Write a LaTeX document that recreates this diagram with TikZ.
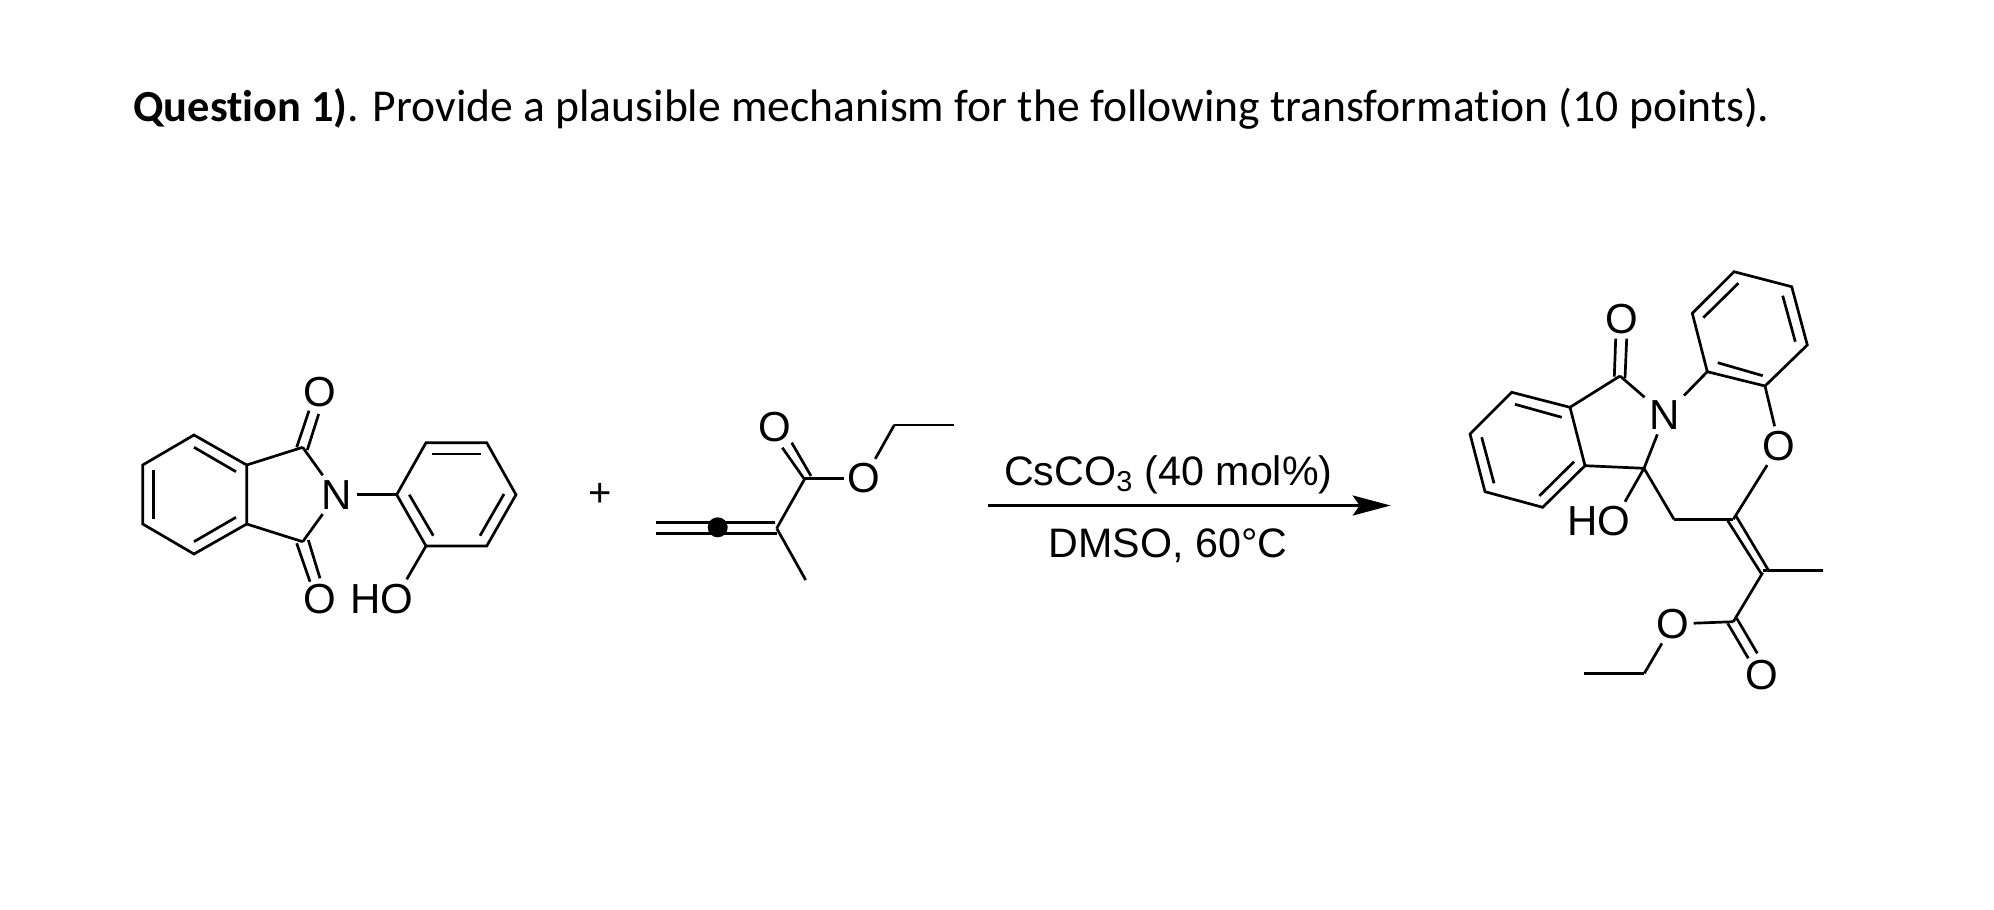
\documentclass[tikz,border=0pt]{standalone}
\usepackage{fontspec}
\setmainfont{Liberation Sans}
\newfontfamily\titlefont[Ligatures=NoCommon]{Carlito}
\usetikzlibrary{arrows.meta}
\tikzset{
  bond/.style={line width=1.35pt,line cap=butt,line join=miter},
  atom/.style={rectangle,inner sep=0pt,minimum width=20pt,minimum height=19pt,font=\fontsize{21}{21}\selectfont},
  hydroxyl/.style={inner sep=0pt,font=\fontsize{21}{21}\selectfont},
  reagent/.style={inner sep=0pt,font=\fontsize{20.6}{20.6}\selectfont},
  reaction/.style={line width=1.35pt,-{Stealth[length=19pt,width=10pt,inset=3.5pt]}},
}
\begin{document}
\begin{tikzpicture}[x=0.5pt,y=-0.5pt]
\useasboundingbox (0,0) rectangle (1994,910);
% title
\node[anchor=base west,inner sep=0pt,font=\titlefont\fontsize{22.8}{22.8}\selectfont] (title) at (133,121)
  {{\fontsize{22.2}{22.2}\selectfont\textbf{Question 1)}}. Provide a plausible mechanism for the following transformation (10 points).};
% atoms with a label
\foreach \n/\t/\px/\py in {
  Na/N/336.7/494.7, Oa/O/320/392.3, Ob/O/320/599.3,
  Oc/O/775/427.3, Od/O/864.3/478.3,
  Ne/N/1665/415, Oe/O/1621.7/319, Of/O/1779.3/445.7, Og/O/1673.3/624, Oh/O/1762.3/675}
  \node[atom] (\n) at (\px,\py) {\t};
\node[hydroxyl] (HOa) at (381.7,598.7) {HO};
\node[hydroxyl] (HOb) at (1599,520.7) {HO};
\node[inner sep=0pt,font=\fontsize{20}{20}\selectfont] (plus) at (600,495) {+};
% skeleton points
\foreach \n/\px/\py in {
  a1/194/435, a2/246.7/465, a3/246.7/524, a4/194/554, a5/142.7/524, a6/142.7/465,
  a7/194/447.3, a8/236/471.7, a9/236/517.3, a10/194/541.7, a11/153.3/470, a12/153.3/518.7,
  c1/302.7/447.3, c2/302.7/541.7,
  d1/296.7/447.3, d2/309/410.7, d3/307.3/450, d4/318.7/414,
  d5/296.7/543.3, d6/310/581.7, d7/308.3/540, d8/320/578.3,
  b1/396.7/494.7, b2/426/442.7, b3/486.7/442.7, b4/516/494.7, b5/486.7/546, b6/426/546,
  b7/432.3/454, b8/480.7/454, b9/504/494, b10/480/535.7, b11/409.3/494.7, b12/433.3/535.7,
  hoa/406.7/579.3,
  m1/655.7/522.7, m2/775/522.7, m3/655.7/533.7, m4/776.7/533.7, m5/776.7/528.3,
  m6/805/478.3, m7/805.7/580,
  m8/805/480, m9/782.3/447.7, m10/811/476, m11/791.7/442.7,
  m12/894.3/425, m13/954.3/425, dot/717.7/527.3,
  r1/1570/407.3, r2/1511.7/392.3, r3/1470/434, r4/1485/491.7, r5/1542.7/507.3, r6/1585/465.7,
  r7/1515/404.3, r8/1561.7/417.3, r9/1481.7/437.3, r10/1494/483.3, r11/1539.3/496, r12/1574/461.7,
  r13/1620/376, r14/1644/468.3,
  r15/1614.3/376.7, r16/1615.7/338.7, r17/1625/378.3, r18/1626.7/338.7,
  hob/1625/501.7,
  s1/1707.3/371.7, s2/1692.3/313.3, s3/1734/271.7, s4/1791.7/286.7, s5/1807.3/345, s6/1765/386,
  s7/1717.7/362.7, s8/1762.7/375.7, s9/1703.3/317.7, s10/1738.3/283.3, s11/1782.7/295.7, s12/1795.3/341.7,
  t1/1674/519.3, t2/1733.3/519.3,
  t3/1727.7/520.7, t4/1761.7/574.3, t5/1736/516, t6/1768.3/570,
  t7/1762.7/572.7, t8/1823.3/570.7, t9/1733.3/621.7,
  t10/1727.7/623.3, t11/1748.3/658.3, t12/1736.7/618.3, t13/1757.3/653.3,
  t14/1644.3/673.3, t15/1584/673.3, t16/1763/570.7,
  arrowa/988.3/505.5, arrowb/1390.7/505.5}
  \coordinate (\n) at (\px,\py);
% left molecule
\draw[bond] (a1)--(a2)--(a3)--(a4)--(a5)--(a6)--cycle;
\foreach \p/\q in {a7/a8,a9/a10,a11/a12,a2/c1,a3/c2,c1/Na,c2/Na,d1/d2,d3/d4,d5/d6,d7/d8,Na/b1,b7/b8,b9/b10,b11/b12,b6/hoa}
  \draw[bond] (\p)--(\q);
\draw[bond] (b1)--(b2)--(b3)--(b4)--(b5)--(b6)--cycle;
% allene
\foreach \p/\q in {m1/m2,m3/m4,m5/m6,m5/m7,m8/m9,m10/m11,m6/Od,Od/m12,m12/m13}
  \draw[bond] (\p)--(\q);
\fill (dot) circle (10);
% reaction arrow
\draw[reaction] (arrowa)--(arrowb);
\node[reagent,anchor=base] (top) at (1168.3,485) {CsCO\textsubscript{3} (40 mol\%)};
\node[reagent,anchor=base] (bot) at (1168,557) {DMSO, 60°C};
% product
\draw[bond] (r1)--(r2)--(r3)--(r4)--(r5)--(r6)--cycle;
\draw[bond] (s1)--(s2)--(s3)--(s4)--(s5)--(s6)--cycle;
\foreach \p/\q in {r7/r8,r9/r10,r11/r12,r1/r13,r13/Ne,Ne/r14,r6/r14,r15/r16,r17/r18,r14/hob,Ne/s1,
  s7/s8,s9/s10,s11/s12,s6/Of,Of/t2,r14/t1,t1/t2,t3/t4,t5/t6,t16/t8,t7/t9,t9/Og,t10/t11,t12/t13,Og/t14,t14/t15}
  \draw[bond] (\p)--(\q);
\end{tikzpicture}
\end{document}
